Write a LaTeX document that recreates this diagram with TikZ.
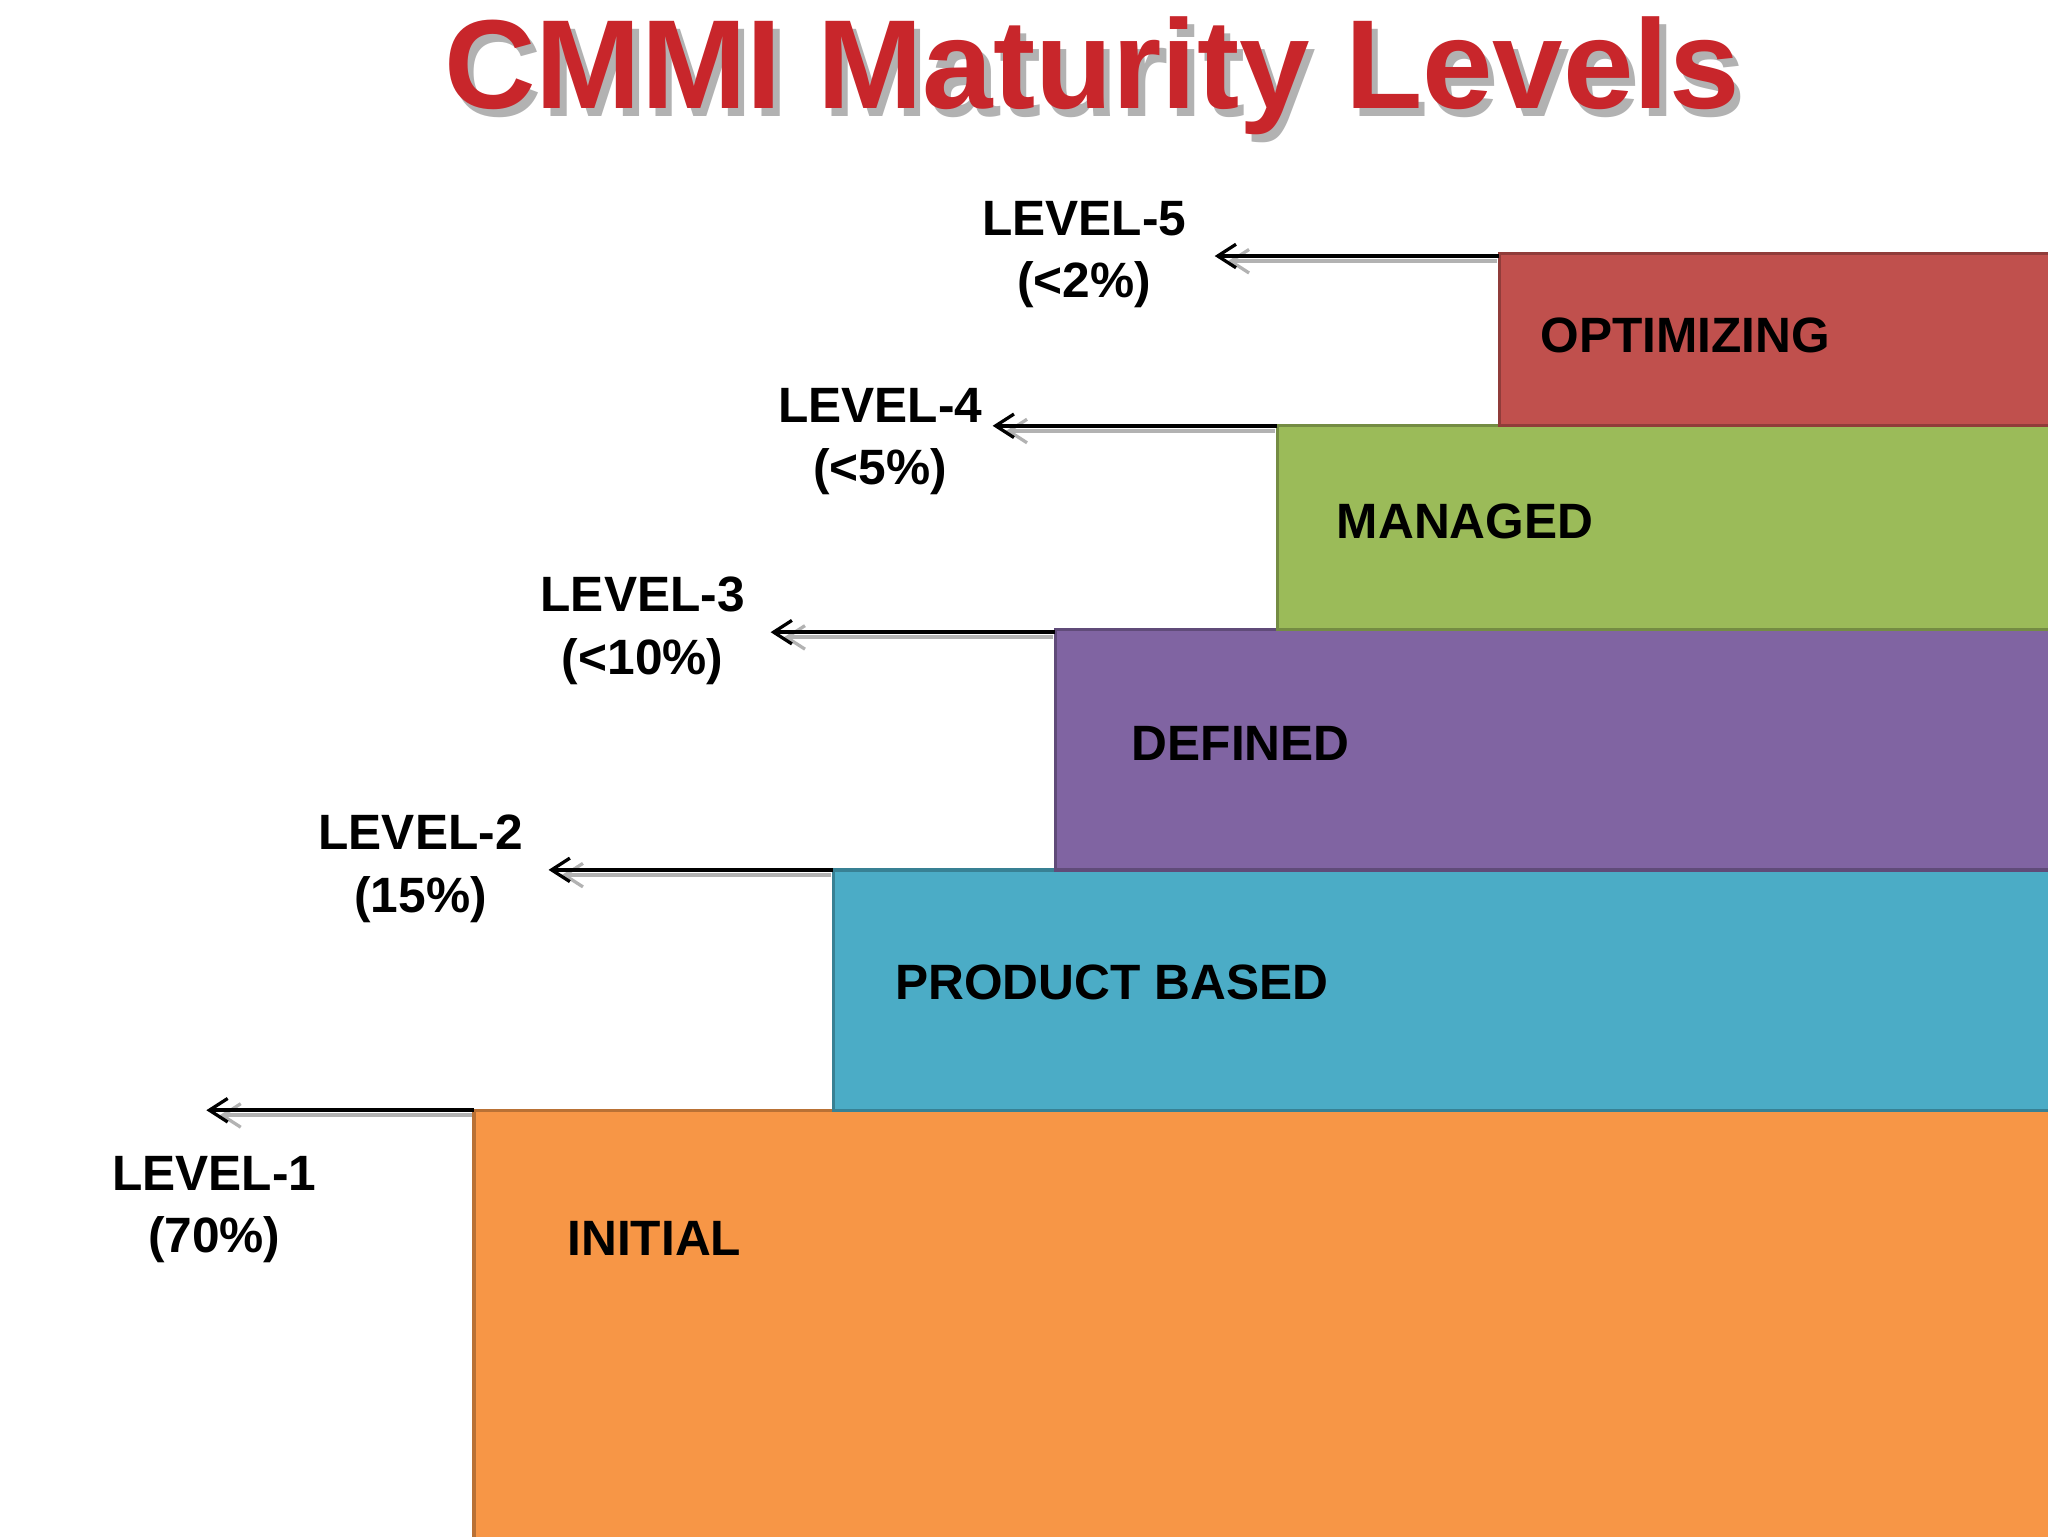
\documentclass[tikz,border=0pt]{standalone}
\usepackage{fontspec}
\setmainfont{Liberation Sans}
\usetikzlibrary{arrows.meta}
\definecolor{cred}{HTML}{C0504D}
\definecolor{cgreen}{HTML}{9BBB59}
\definecolor{cpurple}{HTML}{8064A2}
\definecolor{cblue}{HTML}{4BACC6}
\definecolor{corange}{HTML}{F79646}
\definecolor{ctitle}{HTML}{C8262B}
\begin{document}
\begin{tikzpicture}[x=1pt,y=-1pt,
  stepbox/.style={draw=#1!75!black,line width=2.5pt,fill=#1},
  lbl/.style={font=\bfseries\fontsize{38}{44}\selectfont,anchor=west},
  lev/.style={font=\bfseries\fontsize{38}{48}\selectfont,align=center},
  conn/.style={line width=3pt,-{Straight Barb[length=14pt,width=18pt,line width=2.5pt]}}]
\useasboundingbox[fill=white] (0,0) rectangle (1568,1176);
\node[font=\bfseries\fontsize{97}{100}\selectfont,text=black!30] at (841,64) {CMMI Maturity Levels};
\node[font=\bfseries\fontsize{97}{100}\selectfont,text=ctitle] (title) at (836,58) {CMMI Maturity Levels};
\path[stepbox=corange] (363,850) rectangle (1570,1178);
\path[stepbox=cblue] (638,666) rectangle (1570,850);
\path[stepbox=cpurple] (808,482) rectangle (1570,666);
\path[stepbox=cgreen] (978,326) rectangle (1570,482);
\path[stepbox=cred] (1148,194) rectangle (1570,326);
\coordinate (c5) at (1148,196); \coordinate (e5) at (930,196);
\coordinate (c4) at (978,326); \coordinate (e4) at (760,326);
\coordinate (c3) at (808,484); \coordinate (e3) at (590,484);
\coordinate (c2) at (638,666); \coordinate (e2) at (420,666);
\coordinate (c1) at (363,850); \coordinate (e1) at (158,850);
\foreach \i in {1,...,5}{\draw[conn,black!30] ([yshift=-4pt,xshift=-2pt]c\i) -- ([yshift=-4pt,xshift=10pt]e\i);\draw[conn] (c\i) -- (e\i);}
\node[lbl] (n5) at (1176,257) {OPTIMIZING};
\node[lbl] (n4) at (1020,399) {MANAGED};
\node[lbl] (n3) at (863,569) {DEFINED};
\node[lbl] (n2) at (682,752) {PRODUCT BASED};
\node[lbl] (n1) at (431,948) {INITIAL};
\node[lev] (l5) at (830,195) {LEVEL-5\\(<2\%)};
\node[lev] (l4) at (674,338) {LEVEL-4\\(<5\%)};
\node[lev] (l3) at (492,483) {LEVEL-3\\(<10\%)};
\node[lev] (l2) at (322,665) {LEVEL-2\\(15\%)};
\node[lev] (l1) at (164,926) {LEVEL-1\\(70\%)};
\end{tikzpicture}
\end{document}
